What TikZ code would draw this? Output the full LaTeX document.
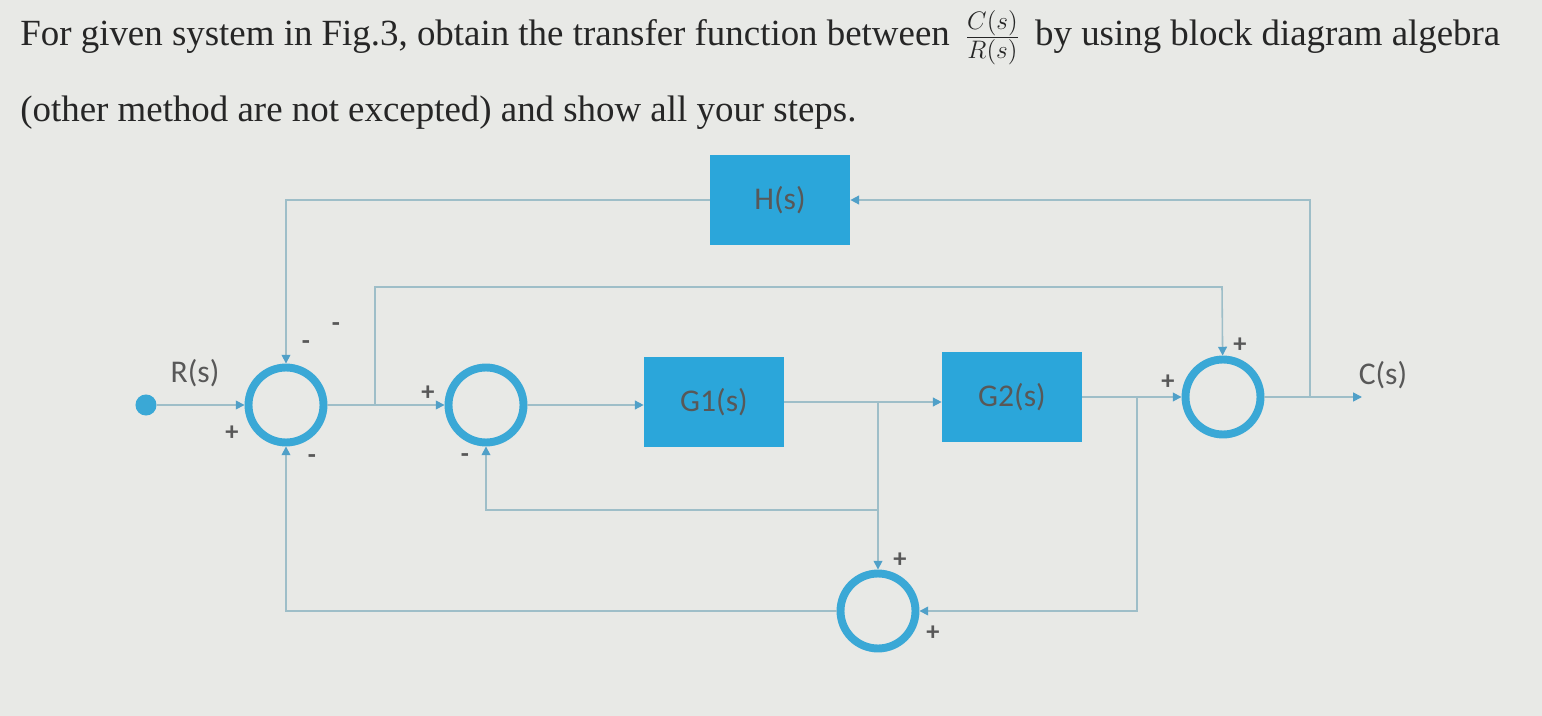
\documentclass[tikz,border=0pt]{standalone}
\usepackage{fontspec}
\setmainfont{Liberation Serif}
\newfontfamily\blockfont{Carlito}
\usepackage{xcolor}
\usetikzlibrary{shapes.geometric, arrows.meta, positioning}
\usetikzlibrary{calc}

\definecolor{paper}{RGB}{232,233,230}
\definecolor{blockblue}{RGB}{43,166,218}
\definecolor{ringblue}{RGB}{58,168,214}
\definecolor{wiregray}{RGB}{158,190,200}
\definecolor{tipblue}{RGB}{80,160,200}
\definecolor{labelgray}{RGB}{88,88,88}
\definecolor{inkgray}{RGB}{38,38,38}

\begin{document}
\begin{tikzpicture}[
    x=0.02cm, y=-0.02cm, % Pixelraster der Vorlage
    % Stil für die Übertragungsblöcke
    block/.style={
      rectangle,
      draw=none,
      fill=blockblue,
      minimum width=2.8cm,
      minimum height=1.8cm,
      font=\blockfont\fontsize{18}{20}\selectfont,
      text=labelgray
    },
    % Stil für die Summationsstellen
    sumnode/.style={
      circle,
      draw=ringblue,
      line width=4.5pt,
      minimum size=1.5cm
    },
    % Stil für die Signalleitungen
    wire/.style={
      draw=wiregray,
      line width=0.9pt,
      -{Triangle[length=5pt,width=5pt,color=tipblue]}
    },
    % Stil für Vorzeichen und Signalnamen
    sign/.style={
      font=\blockfont\fontsize{15}{15}\selectfont\bfseries,
      text=labelgray,
      inner sep=0pt
    },
    signal/.style={
      font=\blockfont\fontsize{18}{20}\selectfont,
      text=labelgray
    }
  ]

  % --- HINTERGRUND ---
  \fill[paper] (0,0) rectangle (1542,716);
  \useasboundingbox (0,0) rectangle (1542,716);

  % --- AUFGABENTEXT ---
  \node[anchor=base west, inner sep=0pt, text=inkgray,
        font=\fontsize{21}{24}\selectfont] (task1) at (20,46)
    {For given system in Fig.3, obtain the transfer function between\, $\frac{C(s)}{R(s)}$\, by using block diagram algebra};
  \node[anchor=base west, inner sep=0pt, text=inkgray,
        font=\fontsize{21}{24}\selectfont] (task2) at (20,122)
    {(other method are not excepted) and show all your steps.};

  % --- DEFINITION DER KNOTEN ---
  \node[circle, fill=ringblue, inner sep=0pt, minimum size=12] (in) at (146,405) {};
  \node[sumnode] (sum1) at (286,405) {};
  \node[sumnode] (sum2) at (486,405) {};
  \node[block] (G1) at (714,402) {G1(s)};
  \node[block] (G2) at (1012,397) {G2(s)};
  \node[sumnode] (sum3) at (1223,397) {};
  \node[sumnode] (sum4) at (878,611) {};
  \node[block] (H) at (780,200) {H(s)};
  \coordinate (out) at (1362,397);

  % Signalnamen
  \node[signal] (lblR) at (195,373) {R(s)};
  \node[signal] (lblC) at (1383,375) {C(s)};

  % Vorzeichen
  \node[sign] at (232,433) {+};
  \node[sign] at (306,345) {-};
  \node[sign] at (336,327) {-};
  \node[sign] at (312,459) {-};
  \node[sign] at (428,393) {+};
  \node[sign] at (465,458) {-};
  \node[sign] at (1168,382) {+};
  \node[sign] at (1240,345) {+};
  \node[sign] at (900,560) {+};
  \node[sign] at (933,633) {+};

  % Verzweigungspunkte und Ecken
  \coordinate (b1) at (375,405);
  \coordinate (ff) at (1222,287);
  \coordinate (b2) at (878,402);
  \coordinate (b3) at (878,510);
  \coordinate (b4) at (1137,397);
  \coordinate (b5) at (1310,397);

  % --- ZEICHNEN DER PFEILE ---
  \draw[wire] (in) -- (sum1);
  \draw[wire] (sum1) -- (sum2);
  \draw[wire] (sum2) -- (sum2 -| G1.west);
  \draw[wire] (G1.east) -- (G1.east -| G2.west);
  \draw[wire] (G2) -- (sum3);
  \draw[wire] (sum3) -- (out);

  % Rückführungen
  \draw[wire] (b1) |- (ff) -- (sum3);
  \draw[wire] (b5) |- (H.east);
  \draw[wire] (H) -| (sum1.north);
  \draw[wire] (b2) -- (sum4);
  \draw[wire] (b3) -| (sum2.south);
  \draw[wire] (b4) |- (sum4.east);
  \draw[wire] (sum4) -| (sum1.south);

\end{tikzpicture}
\end{document}
